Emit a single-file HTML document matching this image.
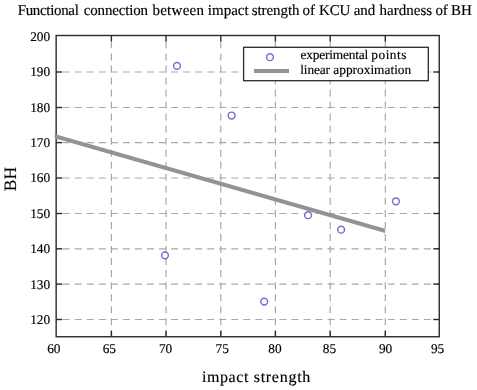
<!DOCTYPE html>
<html><head><meta charset="utf-8"><title>Functional connection between impact strength of KCU and hardness of BH</title>
<style>
html,body{margin:0;padding:0;background:#fff;}
svg{display:block;}
text{font-family:"Liberation Serif","DejaVu Serif",serif;fill:#000;stroke:#000;stroke-width:0.15px;text-rendering:geometricPrecision;}
.tk{font-size:13.33px;}
.ax{stroke:#2a2a2a;stroke-width:1.4;fill:none;stroke-linecap:butt;}
.gr{stroke:#a9a9a9;stroke-width:1.2;fill:none;stroke-dasharray:7 5.04;}
.mk{stroke:#7e68cc;stroke-width:1.45;fill:#fff;}
</style></head><body>
<svg width="477" height="390" viewBox="0 0 477 390">
<rect x="0" y="0" width="477" height="390" fill="#fff"/>
<line class="gr" x1="111.40" y1="336.75" x2="111.40" y2="35.50" stroke-dashoffset="0.55"/>
<line class="gr" x1="166.05" y1="336.75" x2="166.05" y2="35.50" stroke-dashoffset="0.55"/>
<line class="gr" x1="220.80" y1="336.75" x2="220.80" y2="35.50" stroke-dashoffset="0.55"/>
<line class="gr" x1="275.40" y1="336.75" x2="275.40" y2="35.50" stroke-dashoffset="0.55"/>
<line class="gr" x1="330.20" y1="336.75" x2="330.20" y2="35.50" stroke-dashoffset="0.55"/>
<line class="gr" x1="385.30" y1="336.75" x2="385.30" y2="35.50" stroke-dashoffset="0.55"/>
<line class="gr" x1="56.15" y1="319.50" x2="439.25" y2="319.50" stroke-dashoffset="5.5"/>
<line class="gr" x1="56.15" y1="284.10" x2="439.25" y2="284.10" stroke-dashoffset="5.5"/>
<line class="gr" x1="56.15" y1="248.80" x2="439.25" y2="248.80" stroke-dashoffset="5.5"/>
<line class="gr" x1="56.15" y1="213.50" x2="439.25" y2="213.50" stroke-dashoffset="5.5"/>
<line class="gr" x1="56.15" y1="178.00" x2="439.25" y2="178.00" stroke-dashoffset="5.5"/>
<line class="gr" x1="56.15" y1="142.60" x2="439.25" y2="142.60" stroke-dashoffset="5.5"/>
<line class="gr" x1="56.15" y1="107.50" x2="439.25" y2="107.50" stroke-dashoffset="5.5"/>
<line class="gr" x1="56.15" y1="72.00" x2="439.25" y2="72.00" stroke-dashoffset="5.5"/>
<rect class="ax" x="56.15" y="35.50" width="383.10" height="301.25"/>
<line class="ax" x1="111.40" y1="336.75" x2="111.40" y2="330.75"/>
<line class="ax" x1="111.40" y1="35.50" x2="111.40" y2="41.50"/>
<line class="ax" x1="166.05" y1="336.75" x2="166.05" y2="330.75"/>
<line class="ax" x1="166.05" y1="35.50" x2="166.05" y2="41.50"/>
<line class="ax" x1="220.80" y1="336.75" x2="220.80" y2="330.75"/>
<line class="ax" x1="220.80" y1="35.50" x2="220.80" y2="41.50"/>
<line class="ax" x1="275.40" y1="336.75" x2="275.40" y2="330.75"/>
<line class="ax" x1="275.40" y1="35.50" x2="275.40" y2="41.50"/>
<line class="ax" x1="330.20" y1="336.75" x2="330.20" y2="330.75"/>
<line class="ax" x1="330.20" y1="35.50" x2="330.20" y2="41.50"/>
<line class="ax" x1="385.30" y1="336.75" x2="385.30" y2="330.75"/>
<line class="ax" x1="385.30" y1="35.50" x2="385.30" y2="41.50"/>
<line class="ax" x1="56.15" y1="319.50" x2="62.15" y2="319.50"/>
<line class="ax" x1="439.25" y1="319.50" x2="433.25" y2="319.50"/>
<line class="ax" x1="56.15" y1="284.10" x2="62.15" y2="284.10"/>
<line class="ax" x1="439.25" y1="284.10" x2="433.25" y2="284.10"/>
<line class="ax" x1="56.15" y1="248.80" x2="62.15" y2="248.80"/>
<line class="ax" x1="439.25" y1="248.80" x2="433.25" y2="248.80"/>
<line class="ax" x1="56.15" y1="213.50" x2="62.15" y2="213.50"/>
<line class="ax" x1="439.25" y1="213.50" x2="433.25" y2="213.50"/>
<line class="ax" x1="56.15" y1="178.00" x2="62.15" y2="178.00"/>
<line class="ax" x1="439.25" y1="178.00" x2="433.25" y2="178.00"/>
<line class="ax" x1="56.15" y1="142.60" x2="62.15" y2="142.60"/>
<line class="ax" x1="439.25" y1="142.60" x2="433.25" y2="142.60"/>
<line class="ax" x1="56.15" y1="107.50" x2="62.15" y2="107.50"/>
<line class="ax" x1="439.25" y1="107.50" x2="433.25" y2="107.50"/>
<line class="ax" x1="56.15" y1="72.00" x2="62.15" y2="72.00"/>
<line class="ax" x1="439.25" y1="72.00" x2="433.25" y2="72.00"/>
<polygon points="54.7,134.1 385.1,228.8 385.1,232.9 54.7,138.2" fill="#939393"/>
<circle class="mk" cx="177.0" cy="65.9" r="3.4"/>
<circle class="mk" cx="231.6" cy="115.5" r="3.4"/>
<circle class="mk" cx="165.0" cy="255.3" r="3.4"/>
<circle class="mk" cx="264.2" cy="301.6" r="3.4"/>
<circle class="mk" cx="308.1" cy="215.2" r="3.4"/>
<circle class="mk" cx="341.1" cy="229.7" r="3.4"/>
<circle class="mk" cx="395.9" cy="201.3" r="3.4"/>
<text class="tk" x="53.85" y="353.2" text-anchor="middle">60</text>
<text class="tk" x="109.35" y="353.2" text-anchor="middle">65</text>
<text class="tk" x="165.60" y="353.2" text-anchor="middle">70</text>
<text class="tk" x="222.20" y="353.2" text-anchor="middle">75</text>
<text class="tk" x="275.00" y="353.2" text-anchor="middle">80</text>
<text class="tk" x="329.50" y="353.2" text-anchor="middle">85</text>
<text class="tk" x="385.60" y="353.2" text-anchor="middle">90</text>
<text class="tk" x="437.60" y="353.2" text-anchor="middle">95</text>
<text class="tk" x="50.2" y="41.10" text-anchor="end">200</text>
<text class="tk" x="50.2" y="75.50" text-anchor="end">190</text>
<text class="tk" x="50.2" y="112.00" text-anchor="end">180</text>
<text class="tk" x="50.2" y="147.10" text-anchor="end">170</text>
<text class="tk" x="50.2" y="181.50" text-anchor="end">160</text>
<text class="tk" x="50.2" y="218.10" text-anchor="end">150</text>
<text class="tk" x="50.2" y="252.50" text-anchor="end">140</text>
<text class="tk" x="50.2" y="289.00" text-anchor="end">130</text>
<text class="tk" x="50.2" y="323.90" text-anchor="end">120</text>
<text y="15.45" font-size="15px"><tspan x="17.7" textLength="61.1" lengthAdjust="spacing">Functional</tspan> <tspan x="83.7" textLength="64.4" lengthAdjust="spacing">connection</tspan> <tspan x="152.4" textLength="51.6" lengthAdjust="spacing">between</tspan> <tspan x="207.8" textLength="40.9" lengthAdjust="spacing">impact</tspan> <tspan x="251.7" textLength="47.8" lengthAdjust="spacing">strength</tspan> <tspan x="302.6" textLength="12.4" lengthAdjust="spacing">of</tspan> <tspan x="319.0" textLength="31.3" lengthAdjust="spacing">KCU</tspan> <tspan x="353.8" textLength="21.4" lengthAdjust="spacing">and</tspan> <tspan x="379.4" textLength="52.8" lengthAdjust="spacing">hardness</tspan> <tspan x="435.5" textLength="12.3" lengthAdjust="spacing">of</tspan> <tspan x="451.1" textLength="20.8" lengthAdjust="spacing">BH</tspan></text>
<text y="382.1" font-size="16px"><tspan x="202.0" textLength="46.4" lengthAdjust="spacing">impact</tspan> <tspan x="253.7" textLength="56.6" lengthAdjust="spacing">strength</tspan></text>
<text transform="translate(15.7,191.2) rotate(-90)" font-size="17.4px" textLength="24.2" lengthAdjust="spacing">BH</text>
<rect x="243.6" y="47.3" width="184.7" height="33.4" fill="#fff" stroke="#2a2a2a" stroke-width="1.3"/>
<circle class="mk" cx="270" cy="57.2" r="3.4"/>
<line x1="253.9" y1="71" x2="289" y2="71" stroke="#939393" stroke-width="3.9"/>
<text class="tk" y="59.45"><tspan x="300.4" textLength="67.8" lengthAdjust="spacing">experimental</tspan> <tspan x="371.3" textLength="35.1" lengthAdjust="spacing">points</tspan></text>
<text class="tk" y="74.0"><tspan x="300.3" textLength="29.7" lengthAdjust="spacing">linear</tspan> <tspan x="333.3" textLength="77.9" lengthAdjust="spacing">approximation</tspan></text>
</svg>
</body></html>
